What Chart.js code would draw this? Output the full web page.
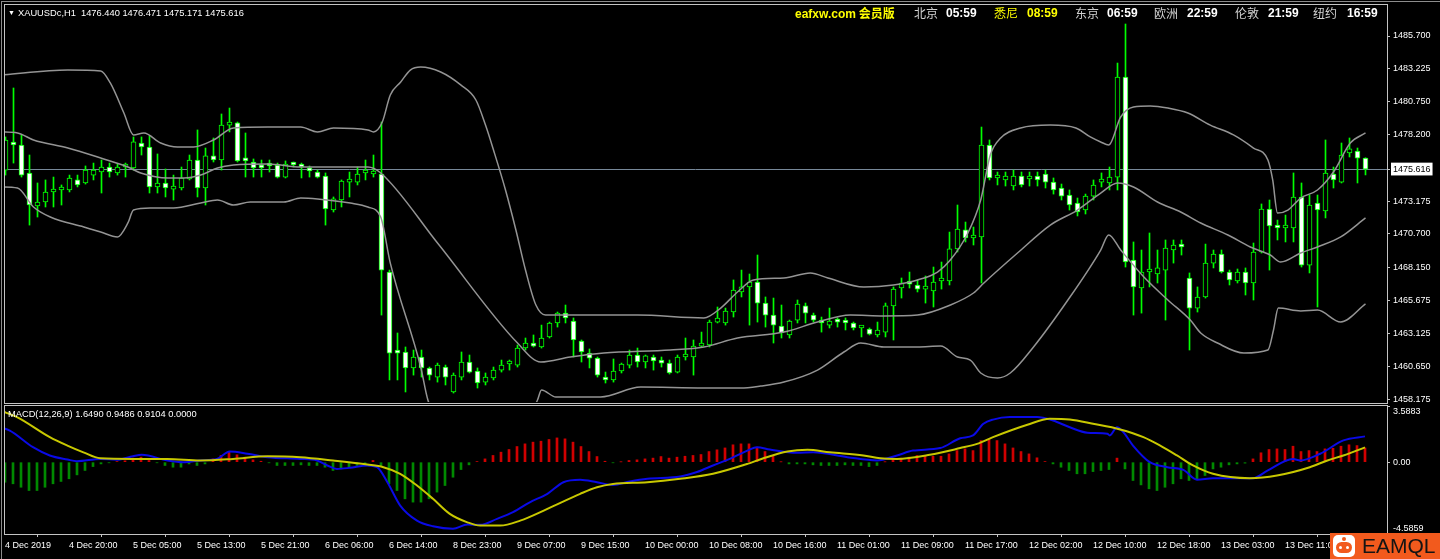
<!DOCTYPE html>
<html>
<head>
<meta charset="utf-8">
<script src="https://cdn.jsdelivr.net/npm/chart.js@4.4.0/dist/chart.umd.min.js"></script>
<style>
    html, body { margin: 0; padding: 0; background: #000; }
    body { position: relative; width: 1440px; height: 559px; overflow: hidden; font-family: "Liberation Sans", Arial, sans-serif; }
    #mainBox { position: absolute; left: 0; top: 0; width: 1440px; height: 403px; }
    #macdBox { position: absolute; left: 0; top: 403px; width: 1440px; height: 156px; }
    .frame { position: absolute; box-sizing: border-box; border: 1px solid #c4c4c4; pointer-events: none; }
    .outer { position: absolute; left: 1px; top: 1px; right: 0; bottom: 0; border-left: 1px solid #8c8c8c; border-top: 1px solid #8c8c8c; pointer-events: none; }
    .txt { position: absolute; white-space: pre; color: #fff; }
    .small { font-size: 9.3px; line-height: 11px; }
    .hdr { font-size: 12px; line-height: 14px; top: 6px; }
    .cjk { font-family: "Noto Sans CJK SC", sans-serif; color: #d0d0d0; }
    .b { font-weight: bold; }
    .yel { color: #ffff00; }
    #logo { position: absolute; left: 1330px; top: 533px; width: 110px; height: 26px; background: #f25a1d; }
    #logo .bot { position: absolute; left: 3px; top: 2px; width: 22px; height: 22px; background: #fff; border-radius: 5px; }
    #logo .ant { position: absolute; left: 9px; top: 2px; width: 4px; height: 4px; background: #f25a1d; border-radius: 2px; }
    #logo .face { position: absolute; left: 3px; top: 7px; width: 16px; height: 11px; background: #f25a1d; border-radius: 6px; }
    #logo .eye { position: absolute; top: 4px; width: 3px; height: 3px; background: #fff; border-radius: 2px; }
    #logo .brand { position: absolute; left: 32px; top: 0; font-size: 21px; line-height: 26px; color: #141414; }
</style>
</head>
<body>
<div id="mainBox"><canvas id="priceChart" width="1440" height="403"></canvas></div>
<div id="macdBox"><canvas id="macdChart" width="1440" height="156"></canvas></div>

<div class="outer"></div>
<div class="frame" style="left:4px;top:4px;width:1384px;height:400px"></div>
<div class="frame" style="left:4px;top:405px;width:1384px;height:130px"></div>

<div class="txt small" style="left:8px;top:7px;font-size:7px">▼</div>
<div class="txt small" style="left:18px;top:8px">XAUUSDc,H1  1476.440 1476.471 1475.171 1475.616</div>
<div class="txt small" style="left:8px;top:409px">MACD(12,26,9) 1.6490 0.9486 0.9104 0.0000</div>

<div class="txt hdr b yel" style="left:795px">eafxw.com<span class="cjk yel"> 会员版</span></div>
<div class="txt hdr cjk" style="left:914px">北京</div>
<div class="txt hdr b" style="left:946px">05:59</div>
<div class="txt hdr cjk yel" style="left:994px">悉尼</div>
<div class="txt hdr b yel" style="left:1027px">08:59</div>
<div class="txt hdr cjk" style="left:1075px">东京</div>
<div class="txt hdr b" style="left:1107px">06:59</div>
<div class="txt hdr cjk" style="left:1154px">欧洲</div>
<div class="txt hdr b" style="left:1187px">22:59</div>
<div class="txt hdr cjk" style="left:1235px">伦敦</div>
<div class="txt hdr b" style="left:1268px">21:59</div>
<div class="txt hdr cjk" style="left:1313px">纽约</div>
<div class="txt hdr b" style="left:1347px">16:59</div>

<div id="logo">
    <div class="bot"><div class="ant"></div><div class="face"><div class="eye" style="left:3px"></div><div class="eye" style="left:10px"></div></div></div>
    <div class="brand">EAMQL</div>
</div>

<script>
// -------- Data (XAUUSDc H1) --------
const timeLabels = ["4 Dec 2019", "4 Dec 20:00", "5 Dec 05:00", "5 Dec 13:00", "5 Dec 21:00", "6 Dec 06:00",
    "6 Dec 14:00", "8 Dec 23:00", "9 Dec 07:00", "9 Dec 15:00", "10 Dec 00:00", "10 Dec 08:00", "10 Dec 16:00",
    "11 Dec 01:00", "11 Dec 09:00", "11 Dec 17:00", "12 Dec 02:00", "12 Dec 10:00", "12 Dec 18:00",
    "13 Dec 03:00", "13 Dec 11:00"];
const labelStep = 8; // one time label every 8 bars

const opens = [
    1475.54, 1477.59, 1477.44, 1475.32, 1472.82, 1473.12, 1473.88, 1474.03, 1474.03, 1474.79,
    1474.56, 1475.16, 1475.39, 1475.77, 1475.32, 1475.77, 1475.70, 1477.59, 1477.29, 1474.26,
    1474.56, 1474.10, 1474.18, 1474.86, 1476.30, 1474.18, 1476.61, 1476.30, 1478.95, 1479.11,
    1476.30, 1476.15, 1475.77, 1475.92, 1475.92, 1475.01, 1476.00, 1476.00, 1475.70, 1475.39,
    1475.09, 1472.51, 1473.27, 1474.63, 1474.63, 1475.32, 1475.24, 1475.24, 1467.81, 1461.75,
    1461.75, 1460.54, 1461.37, 1460.54, 1459.85, 1460.61, 1458.72, 1459.85, 1460.99, 1460.31,
    1459.47, 1459.78, 1460.38, 1460.84, 1460.76, 1462.05, 1462.43, 1462.13, 1462.89, 1463.95,
    1464.70, 1464.10, 1462.58, 1461.67, 1461.29, 1459.85, 1459.63, 1460.31, 1460.76, 1461.52,
    1460.99, 1461.37, 1460.99, 1460.91, 1460.23, 1461.37, 1461.37, 1462.20, 1462.28, 1464.02,
    1463.95, 1464.78, 1466.30, 1466.68, 1467.05, 1465.46, 1464.55, 1463.72, 1463.04, 1464.17,
    1465.24, 1464.55, 1464.10, 1463.79, 1464.10, 1464.02, 1463.95, 1463.57, 1463.49, 1463.04,
    1463.26, 1465.24, 1466.60, 1466.98, 1466.83, 1466.52, 1466.37, 1467.13, 1467.13, 1469.56,
    1471.00, 1470.39, 1470.47, 1477.44, 1474.94, 1474.79, 1474.33, 1475.09, 1474.86, 1475.09,
    1475.24, 1474.63, 1474.18, 1473.65, 1473.04, 1472.51, 1473.57, 1474.63, 1474.56, 1475.01,
    1482.59, 1468.72, 1466.60, 1467.81, 1467.66, 1467.96, 1469.48, 1469.78, 1467.36, 1465.08,
    1465.92, 1468.49, 1469.18, 1467.81, 1467.13, 1467.81, 1466.98, 1469.33, 1472.59, 1471.30,
    1471.15, 1471.15, 1473.50, 1468.34, 1473.04, 1472.44, 1475.24, 1474.63, 1476.83, 1476.98,
    1476.44];
const highs = [
    1478.05, 1481.76, 1478.20, 1476.68, 1474.56, 1474.79, 1475.01, 1474.41, 1475.16, 1475.16,
    1475.85, 1476.07, 1476.30, 1476.07, 1476.00, 1476.07, 1478.05, 1478.05, 1478.12, 1476.76,
    1475.62, 1475.16, 1475.77, 1476.68, 1478.58, 1477.21, 1477.97, 1479.79, 1480.24, 1479.18,
    1478.35, 1476.38, 1476.30, 1476.30, 1476.07, 1476.23, 1476.15, 1476.07, 1475.85, 1475.54,
    1475.32, 1473.50, 1474.79, 1475.39, 1475.77, 1476.30, 1476.68, 1479.18, 1467.96, 1463.19,
    1462.13, 1461.90, 1461.90, 1460.61, 1460.91, 1460.76, 1460.16, 1461.75, 1461.52, 1460.54,
    1460.16, 1460.61, 1461.14, 1461.14, 1462.28, 1462.81, 1463.04, 1463.79, 1464.02, 1464.78,
    1465.31, 1464.33, 1462.66, 1461.98, 1461.37, 1460.23, 1461.22, 1460.91, 1461.90, 1462.05,
    1461.52, 1461.52, 1461.37, 1461.14, 1461.52, 1462.81, 1462.66, 1463.26, 1464.17, 1465.16,
    1465.08, 1467.21, 1467.96, 1467.66, 1469.10, 1465.92, 1465.84, 1465.31, 1464.17, 1465.69,
    1465.46, 1464.70, 1464.40, 1465.08, 1464.33, 1464.33, 1464.02, 1463.72, 1463.57, 1464.02,
    1465.46, 1466.68, 1467.36, 1467.81, 1467.21, 1467.51, 1468.19, 1468.57, 1470.84, 1472.89,
    1471.60, 1471.22, 1478.80, 1477.82, 1475.39, 1475.39, 1475.54, 1475.39, 1475.39, 1475.39,
    1475.54, 1474.94, 1474.48, 1474.03, 1473.42, 1473.72, 1474.79, 1475.32, 1475.77, 1483.65,
    1486.61, 1470.09, 1469.48, 1470.77, 1469.48, 1470.24, 1470.24, 1470.24, 1467.74, 1466.68,
    1469.93, 1469.48, 1469.48, 1467.96, 1468.04, 1468.12, 1470.01, 1472.97, 1473.27, 1471.75,
    1472.13, 1475.32, 1474.56, 1473.65, 1473.65, 1477.82, 1475.77, 1477.59, 1477.97, 1477.21,
    1476.471];
const lows = [
    1475.16, 1476.07, 1475.01, 1471.37, 1471.98, 1472.74, 1472.74, 1472.89, 1473.88, 1474.26,
    1474.48, 1474.79, 1473.80, 1475.01, 1475.16, 1475.01, 1475.54, 1476.68, 1473.80, 1473.80,
    1473.50, 1473.27, 1474.03, 1474.79, 1473.50, 1472.89, 1476.15, 1475.54, 1478.43, 1476.15,
    1475.01, 1475.01, 1475.01, 1475.39, 1474.94, 1474.94, 1475.77, 1474.94, 1475.01, 1474.94,
    1471.37, 1472.36, 1472.74, 1473.50, 1474.41, 1474.79, 1475.01, 1464.55, 1459.63, 1459.63,
    1458.72, 1460.00, 1459.85, 1459.63, 1459.47, 1459.25, 1458.64, 1459.63, 1460.16, 1459.02,
    1459.25, 1459.63, 1460.23, 1460.38, 1460.61, 1461.90, 1462.13, 1462.05, 1462.81, 1463.64,
    1463.95, 1461.37, 1460.99, 1460.54, 1459.85, 1459.40, 1459.47, 1460.16, 1460.54, 1460.61,
    1460.54, 1460.38, 1460.61, 1460.08, 1460.16, 1461.14, 1460.00, 1462.13, 1462.13, 1463.95,
    1463.79, 1464.40, 1465.92, 1463.79, 1464.02, 1463.64, 1462.43, 1462.81, 1462.81, 1463.95,
    1463.95, 1464.02, 1463.26, 1463.57, 1463.64, 1463.42, 1463.42, 1462.89, 1463.04, 1462.89,
    1462.89, 1462.66, 1465.84, 1466.60, 1466.30, 1465.46, 1465.16, 1466.52, 1466.83, 1469.33,
    1470.09, 1469.86, 1466.98, 1474.79, 1474.41, 1474.33, 1474.03, 1474.26, 1474.33, 1474.33,
    1474.18, 1473.72, 1473.27, 1472.51, 1472.06, 1472.21, 1473.27, 1474.26, 1474.03, 1474.03,
    1468.19, 1464.55, 1464.70, 1466.68, 1466.98, 1464.17, 1468.49, 1469.10, 1461.90, 1464.78,
    1465.84, 1468.12, 1467.74, 1466.83, 1466.98, 1466.07, 1465.69, 1469.25, 1467.96, 1470.24,
    1470.09, 1470.09, 1468.19, 1467.74, 1465.16, 1471.91, 1474.18, 1474.56, 1476.53, 1474.56,
    1475.171];
const closes = [
    1477.82, 1477.44, 1475.16, 1472.89, 1473.12, 1473.88, 1473.95, 1474.10, 1474.94, 1474.41,
    1475.54, 1475.54, 1475.77, 1475.39, 1475.77, 1475.85, 1477.67, 1477.29, 1474.26, 1474.56,
    1474.18, 1474.26, 1474.94, 1476.30, 1474.18, 1476.61, 1476.30, 1478.95, 1479.11, 1476.23,
    1476.23, 1475.70, 1475.70, 1475.85, 1475.01, 1476.00, 1475.92, 1475.77, 1475.47, 1475.01,
    1472.59, 1473.35, 1474.71, 1474.71, 1475.24, 1475.54, 1475.39, 1467.96, 1461.67, 1461.67,
    1460.54, 1461.37, 1460.54, 1460.00, 1460.76, 1459.85, 1460.00, 1460.99, 1460.23, 1459.40,
    1459.85, 1460.38, 1460.76, 1460.91, 1462.05, 1462.43, 1462.20, 1462.81, 1463.95, 1464.70,
    1464.33, 1462.66, 1461.75, 1461.29, 1460.00, 1459.63, 1460.31, 1460.84, 1461.52, 1460.99,
    1461.45, 1461.07, 1460.91, 1460.16, 1461.37, 1461.45, 1462.20, 1462.28, 1464.02, 1464.33,
    1464.86, 1466.45, 1466.68, 1467.05, 1465.46, 1464.55, 1463.79, 1463.19, 1464.10, 1465.39,
    1464.70, 1464.17, 1463.95, 1464.10, 1464.02, 1463.95, 1463.57, 1463.64, 1463.11, 1463.42,
    1465.24, 1466.52, 1466.98, 1466.90, 1466.52, 1466.60, 1467.05, 1467.21, 1469.56, 1471.07,
    1470.39, 1470.47, 1477.44, 1474.94, 1475.09, 1475.09, 1475.09, 1474.41, 1474.94, 1474.79,
    1474.63, 1474.03, 1473.57, 1472.89, 1472.36, 1473.57, 1474.41, 1474.71, 1475.01, 1482.59,
    1468.57, 1466.68, 1467.81, 1467.88, 1468.12, 1469.63, 1469.86, 1469.71, 1465.08, 1465.92,
    1468.49, 1469.18, 1467.81, 1467.21, 1467.81, 1466.98, 1469.33, 1472.59, 1471.30, 1471.15,
    1471.22, 1473.50, 1468.34, 1472.89, 1472.51, 1475.32, 1474.79, 1476.68, 1477.14, 1476.45,
    1475.616];

// Bollinger bands, [bar index, price]
const bbUpper = [
    [-0.6, 1482.74], [7.8, 1483.12], [11.9, 1483.05], [13.1, 1482.14], [14.8, 1479.86], [16, 1478.20],
    [17.3, 1478.35], [19.4, 1477.59], [21.5, 1477.29], [23.5, 1477.29], [26, 1477.82], [28.5, 1478.73],
    [32.8, 1478.80], [36.9, 1478.80], [39, 1478.43], [41, 1478.73], [45.3, 1478.58], [46, 1478.43],
    [47.1, 1479.18], [48.1, 1481.23], [49.4, 1482.21], [50.6, 1483.12], [51.9, 1483.35], [54.4, 1482.97],
    [56.9, 1481.99], [58.8, 1480.85], [60, 1478.95], [61, 1477.06], [62.5, 1474.03], [63.8, 1471.00],
    [65, 1467.96], [66.3, 1465.31], [67.5, 1464.55], [70.6, 1464.55], [79, 1464.55], [87.3, 1464.33],
    [89.4, 1465.08], [91.5, 1466.30], [93.5, 1467.21], [97.3, 1467.36], [100.6, 1467.74], [102.8, 1467.36],
    [107.3, 1466.68], [111, 1466.83], [114, 1467.21], [116.5, 1467.81], [118.1, 1468.72], [120.3, 1470.77],
    [121.9, 1473.27], [123.1, 1476.68], [124.4, 1477.97], [126.9, 1478.73], [130.6, 1478.95], [133.8, 1478.73],
    [135.6, 1478.05], [136.9, 1477.67], [137.9, 1477.44], [139.4, 1479.56], [141, 1480.32], [143.1, 1480.40],
    [145.3, 1480.24], [147.8, 1479.86], [150.6, 1478.95], [153.5, 1478.20], [156, 1477.21], [157.8, 1476.30],
    [158.4, 1474.79], [159, 1472.28], [160.3, 1472.51], [161.9, 1473.42], [164, 1474.03], [166, 1475.39],
    [168.1, 1477.59], [170, 1478.35]];
const bbMiddle = [
    [-0.6, 1478.43], [1.5, 1478.35], [3.5, 1477.82], [7.8, 1477.21], [11.9, 1476.45], [15.3, 1475.77],
    [16.9, 1475.32], [20.3, 1474.94], [22.3, 1474.94], [24.4, 1475.16], [26.5, 1475.70], [28.5, 1475.92],
    [32.8, 1476.00], [36.9, 1475.77], [41, 1475.77], [45.3, 1475.77], [46.9, 1475.32], [54, 1470.01],
    [64, 1462.43], [66.9, 1460.99], [70.6, 1461.37], [74.8, 1461.67], [83.1, 1461.90], [87.3, 1462.13],
    [91.5, 1462.81], [97.3, 1463.26], [101.5, 1464.02], [105.6, 1464.55], [109.8, 1464.48], [114, 1464.55],
    [118.1, 1465.31], [121, 1466.22], [122.3, 1466.98], [126.5, 1469.25], [130.6, 1471.37], [134, 1472.51],
    [136.9, 1473.80], [139, 1474.56], [141, 1474.26], [144, 1473.12], [146.9, 1472.36], [149.4, 1471.53],
    [152.8, 1470.62], [155.6, 1469.71], [158.1, 1469.10], [159.4, 1468.57], [161.9, 1469.25], [164, 1469.71],
    [166.9, 1470.47], [170, 1471.91]];
const bbLower = [
    [-0.6, 1474.26], [1.5, 1474.18], [3.5, 1472.74], [5.6, 1471.98], [9.8, 1471.22], [11.9, 1470.84],
    [14, 1470.47], [15.3, 1471.53], [16, 1472.51], [18.1, 1472.66], [21, 1472.66], [24.4, 1473.04],
    [26.5, 1473.27], [28.5, 1472.89], [30.6, 1473.12], [34.8, 1473.12], [36.9, 1473.42], [39, 1473.35],
    [43.1, 1473.04], [45.3, 1472.74], [46.9, 1471.98], [48.1, 1468.49], [51.9, 1460.61], [52.8, 1458.11],
    [55, 1455.83], [58.8, 1453.94], [62.5, 1454.32], [65, 1456.22], [66.5, 1458.11], [67, 1458.87],
    [68.8, 1458.34], [74.4, 1458.34], [79.4, 1459.09], [87.3, 1459.02], [91.9, 1459.02], [94.4, 1459.17],
    [97.3, 1459.47], [101.5, 1460.38], [104.8, 1461.75], [106.9, 1462.43], [109.8, 1462.13], [114, 1462.13],
    [116.9, 1462.20], [119, 1461.37], [120.6, 1461.14], [121.9, 1460.16], [124, 1459.78], [125.6, 1460.16],
    [128.5, 1462.13], [132.8, 1465.69], [136.9, 1469.48], [137.9, 1470.62], [139.4, 1469.48], [142.3, 1467.43],
    [145.3, 1465.69], [148.1, 1464.17], [149.4, 1463.19], [151.5, 1462.43], [154.8, 1461.67], [157.8, 1461.90],
    [158.5, 1463.42], [159.1, 1465.08], [161.9, 1464.86], [164, 1464.93], [166.9, 1464.02], [170, 1465.39]];

// MACD(12,26,9): histogram per bar, main (blue) and signal (yellow) lines as [bar index, value]
const macdHist = [
    -1.28, -1.38, -1.60, -1.81, -1.81, -1.60, -1.38, -1.23, -1.06, -0.81,
    -0.53, -0.28, -0.11, -0.04, 0.04, 0.09, 0.26, 0.32, 0.11, -0.04,
    -0.21, -0.32, -0.32, -0.11, -0.21, -0.11, 0.21, 0.43, 0.68, 0.47,
    0.32, 0.15, 0.06, -0.04, -0.21, -0.21, -0.21, -0.17, -0.21, -0.21,
    -0.32, -0.53, -0.43, -0.32, -0.21, -0.11, 0.11, -0.21, -1.38, -1.81,
    -2.34, -2.55, -2.55, -2.34, -1.91, -1.49, -0.96, -0.47, -0.17, 0.04,
    0.21, 0.43, 0.64, 0.81, 1.00, 1.17, 1.28, 1.34, 1.45, 1.55,
    1.49, 1.28, 1.00, 0.68, 0.36, 0.06, -0.04, 0.02, 0.11, 0.15,
    0.21, 0.26, 0.36, 0.26, 0.32, 0.38, 0.43, 0.49, 0.68, 0.79,
    0.91, 1.11, 1.17, 1.17, 0.96, 0.68, 0.38, 0.02, -0.11, -0.11,
    -0.11, -0.17, -0.21, -0.21, -0.21, -0.17, -0.21, -0.21, -0.28, -0.21,
    0.02, 0.17, 0.26, 0.32, 0.43, 0.43, 0.38, 0.38, 0.53, 0.74,
    0.85, 0.74, 1.38, 1.45, 1.38, 1.17, 0.91, 0.68, 0.53, 0.28,
    0.04, -0.11, -0.32, -0.53, -0.74, -0.74, -0.60, -0.53, -0.47, 0.26,
    -0.43, -1.17, -1.45, -1.70, -1.81, -1.60, -1.38, -1.06, -1.17, -1.06,
    -0.85, -0.43, -0.32, -0.17, -0.11, -0.06, 0.21, 0.60, 0.81, 0.85,
    0.81, 1.02, 0.68, 0.74, 0.68, 0.85, 0.89, 1.02, 1.11, 1.06,
    0.91];
const macdMain = [
    [-0.6, 2.23], [0.6, 2.02], [3.5, 0.96], [5.6, 0.43], [7.8, 0.17], [9, 0.06], [11.9, 0.21], [14, 0.15],
    [16, 0.38], [17.1, 0.47], [20.3, 0.11], [22.3, 0], [24.4, 0.11], [26.5, 0.21], [28.1, 0.68], [30.3, 0.54],
    [32.8, 0.32], [36.9, 0.21], [39, 0.11], [40.3, -0.21], [41.5, -0.43], [43.1, -0.36], [45.3, -0.21],
    [46.5, -0.32], [47.8, -1.28], [49.4, -2.77], [51.5, -3.73], [53.5, -4.09], [56, -4.25], [57.8, -3.98],
    [59.4, -4.00], [61.5, -3.62], [63.5, -3.19], [65.6, -2.56], [67.8, -2.02], [69.8, -1.28], [71.9, -1.12],
    [74, -1.28], [76, -1.45], [78.1, -1.23], [80.3, -1.06], [84.4, -0.92], [86.5, -0.63], [88.5, -0.21],
    [90.6, 0.21], [92.8, 0.74], [94, 0.96], [95.6, 0.81], [99, 0.60], [101, 0.63], [105.3, 0.32], [109, 0.11],
    [111.5, 0.43], [113.5, 0.74], [116.9, 0.90], [119.4, 1.53], [121, 1.71], [122.3, 2.45], [123.5, 2.72],
    [125.6, 2.88], [129, 2.88], [131, 2.66], [133.1, 2.23], [135.3, 1.88], [137.8, 1.81], [138.1, 1.71],
    [139, 2.23], [139.8, 1.91], [141, 1.06], [143.1, 0], [145.3, -0.32], [147.3, -0.49], [149, -1.12],
    [151, -1.02], [156, -1.02], [157.8, -0.54], [161, 0.21], [161.9, 0.11], [164.4, 0.54], [167.3, 1.39],
    [170, 1.649]];
const macdSignal = [
    [-0.6, 3.30], [1.5, 2.88], [5.6, 1.60], [7.8, 1.06], [9.8, 0.63], [11.9, 0.25], [16, 0.21], [20.3, 0.21],
    [24.4, 0.11], [28.5, 0.21], [32.8, 0.38], [36.9, 0.32], [41, 0.11], [45.3, -0.15], [47.3, -0.32],
    [49.4, -0.74], [51.5, -1.49], [53.5, -2.34], [55.6, -3.30], [57.8, -3.84], [59.4, -4.05], [61.9, -4.05],
    [64.4, -3.73], [67.8, -2.98], [71.9, -2.02], [74, -1.60], [76, -1.39], [80.3, -1.28], [84.4, -1.06],
    [88.5, -0.74], [92.8, -0.11], [94.8, 0.25], [97.8, 0.68], [100.3, 0.79], [103.1, 0.63], [107.3, 0.43],
    [109.4, 0.25], [111.5, 0.21], [115.6, 0.47], [119.4, 0.90], [121.5, 1.17], [123.5, 1.60], [127.8, 2.39],
    [130.6, 2.77], [133.1, 2.72], [136, 2.45], [139.4, 2.09], [142.3, 1.60], [144.4, 1.06], [146.5, 0.43],
    [148.5, -0.21], [151, -0.74], [155.6, -1.02], [159, -0.85], [163.1, -0.32], [165.3, 0.11], [167.3, 0.43],
    [170, 0.9486]];

const priceTicks = [1458.175, 1460.650, 1463.125, 1465.675, 1468.150, 1470.700, 1473.175, 1475.616,
    1478.200, 1480.750, 1483.225, 1485.700];
const lastPrice = 1475.616;
const priceMin = 1457.96, priceMax = 1488.05;
const macdMax = 3.5883, macdMin = -4.5859;

// -------- Render --------
(function () {
    const LIME = "#00ff00";
    const FONT = { family: "'Liberation Sans', Arial, sans-serif", size: 9 };
    const PLOT_W = 1383, BAR_PX = 8;          // MT4 zoom: 8 px per bar
    const span = PLOT_W / BAR_PX;

    Chart.defaults.color = "#fff";
    Chart.defaults.font = FONT;

    const base = (padding) => ({
        responsive: false,
        animation: false,
        devicePixelRatio: 1,
        events: [],
        layout: { padding },
        plugins: { legend: { display: false }, tooltip: { enabled: false } }
    });
    const bandLine = (data) => ({
        type: "line", data, borderColor: "#949494", borderWidth: 1.5, pointRadius: 0,
        cubicInterpolationMode: "monotone", clip: 0, order: 0
    });
    // fixed right axis width, and no extra room for label overflow
    const fixAxis = s => { s.width = 53; s.paddingTop = 0; s.paddingBottom = 0; };

    // price chart (candles + bollinger)
    const idx = opens.map((_, i) => i);
    const bodies = idx.map(i => ({ x: i, y: [opens[i], closes[i]] }));
    const wicks = idx.map(i => ({ x: i, y: [lows[i], highs[i]] }));
    const bodyFill = idx.map(i => closes[i] >= opens[i] ? "#000" : "#fff");
    const mainMin = -0.1875;

    new Chart(document.getElementById("priceChart"), {
        type: "bar",
        data: {
            datasets: [
                bandLine(bbUpper), bandLine(bbMiddle), bandLine(bbLower),
                { data: bodies, backgroundColor: bodyFill, borderColor: LIME, borderWidth: 1,
                  borderSkipped: false, barThickness: 5, minBarLength: 3, grouped: false, clip: 0, order: 1 },
                { data: wicks, backgroundColor: LIME, borderWidth: 0, barThickness: 1,
                  grouped: false, clip: 0, order: 2 }
            ]
        },
        options: Object.assign(base({ left: 4, top: 5, right: 0, bottom: 1 }), {
            scales: {
                x: { type: "linear", display: false, offset: false, min: mainMin, max: mainMin + span },
                y: {
                    position: "right", min: priceMin, max: priceMax,
                    afterFit: fixAxis,
                    afterBuildTicks: s => { s.ticks = priceTicks.map(v => ({ value: v })); },
                    border: { display: false },
                    grid: {
                        color: c => (c.tick && c.tick.value === lastPrice) ? "#778899" : "rgba(0,0,0,0)",
                        tickColor: "#c4c4c4", tickLength: 3
                    },
                    ticks: {
                        autoSkip: false, padding: 3, font: FONT,
                        color: c => c.tick.value === lastPrice ? "#000" : "#fff",
                        showLabelBackdrop: c => c.tick.value === lastPrice,
                        backdropColor: "#fff",
                        backdropPadding: { top: 1, bottom: 1, left: 2, right: 2 },
                        callback: v => v.toFixed(3)
                    }
                }
            }
        })
    });

    // MACD sub-window; edge labels sit inside the window like MT4 does
    const macdX = -0.125;
    const macdLabel = (v) => {
        if (v === macdMax) return ["", macdMax.toFixed(4)];
        if (v === macdMin) return [macdMin.toFixed(4), ""];
        return v.toFixed(2);
    };

    new Chart(document.getElementById("macdChart"), {
        type: "bar",
        data: {
            datasets: [
                { type: "line", data: macdSignal, borderColor: "#c8c800", borderWidth: 2, pointRadius: 0,
                  cubicInterpolationMode: "monotone", clip: 0, order: 0 },
                { type: "line", data: macdMain, borderColor: "#0a0ae6", borderWidth: 2, pointRadius: 0,
                  cubicInterpolationMode: "monotone", clip: 0, order: 1 },
                { data: macdHist.map((v, i) => ({ x: i, y: v })),
                  backgroundColor: macdHist.map(v => v >= 0 ? "#d00000" : "#008a00"),
                  barThickness: 2, borderWidth: 0, grouped: false, clip: 0, order: 2 }
            ]
        },
        options: Object.assign(base({ left: 4, top: 3, right: 0, bottom: 0 }), {
            scales: {
                x: {
                    type: "linear", offset: false, min: macdX, max: macdX + span,
                    afterFit: s => { s.height = 25; s.paddingLeft = 0; s.paddingRight = 0; },
                    afterBuildTicks: s => { s.ticks = timeLabels.map((_, k) => ({ value: k * labelStep })); },
                    border: { display: false },
                    grid: { drawOnChartArea: false, tickLength: 3, tickColor: "#c4c4c4" },
                    ticks: { align: "start", autoSkip: false, maxRotation: 0, padding: 3, font: FONT,
                             color: "#fff", callback: v => timeLabels[Math.round(v / labelStep)] }
                },
                y: {
                    position: "right", min: macdMin, max: macdMax,
                    afterFit: fixAxis,
                    afterBuildTicks: s => { s.ticks = [macdMax, 0, macdMin].map(v => ({ value: v })); },
                    border: { display: false },
                    grid: { drawOnChartArea: false, tickLength: 3, tickColor: "#c4c4c4" },
                    ticks: { autoSkip: false, padding: 3, font: FONT, color: "#fff", callback: macdLabel }
                }
            }
        })
    });
})();
</script>
</body>
</html>
